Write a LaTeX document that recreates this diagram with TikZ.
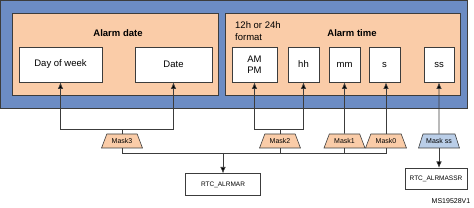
\documentclass[tikz,border=0pt]{standalone}
\usepackage{fontspec}
\setmainfont{Liberation Sans}
\usetikzlibrary{shapes.geometric, arrows.meta}

\definecolor{regblue}{RGB}{108,140,196}
\definecolor{fieldorange}{RGB}{250,204,168}
\definecolor{maskblue}{RGB}{186,206,232}
\definecolor{edgegray}{RGB}{60,60,60}

\begin{document}
\begin{tikzpicture}[x=1pt, y=-1pt,
        field/.style={draw=edgegray, fill=white, line width=0.8pt, minimum height=35pt, inner sep=0pt,
            font=\fontsize{9.5}{11}\selectfont, align=center},
        group/.style={draw=edgegray, fill=fieldorange, line width=0.8pt, minimum height=82pt, inner sep=0pt},
        grouplabel/.style={inner sep=0pt, font=\fontsize{9.5}{11}\selectfont\bfseries},
        mask/.style={trapezium, trapezium left angle=55, trapezium right angle=55, trapezium stretches=true,
            draw=edgegray, fill=fieldorange, line width=0.6pt, minimum width=41pt, minimum height=14pt,
            inner sep=0pt, font=\fontsize{7}{8}\selectfont},
        reg/.style={draw=edgegray, fill=white, line width=0.6pt, minimum height=21.5pt, inner sep=0pt,
            font=\fontsize{6.5}{8}\selectfont},
        link/.style={draw=edgegray, line width=0.7pt},
        >={Latex[length=6.5pt,width=5.5pt,fill=black]}]
        \useasboundingbox (0,0) rectangle (474,208);

        % register frame
        \node[draw=edgegray, fill=regblue, line width=0.8pt, minimum width=467pt, minimum height=108pt,
            inner sep=0pt, anchor=north west] (rtcreg) at (0,0) {};
        \node[group, minimum width=206pt] (datebox) at (115,54) {};
        \node[group, minimum width=235pt] (timebox) at (342.5,54) {};
        \node[grouplabel] (datelabel) at (118,33) {Alarm date};
        \node[grouplabel] (timelabel) at (352,33) {Alarm time};
        \node[inner sep=0pt, anchor=west, align=left, font=\fontsize{9.5}{12}\selectfont] (fmtlabel) at (235,31) {12h or 24h\\format};

        % fields
        \node[field, minimum width=83pt] (dow)  at (60.5,64.5)  {Day of week};
        \node[field, minimum width=77pt] (date) at (173.5,64.5) {Date};
        \node[field, minimum width=45pt] (ampm) at (254.5,64.5) {AM\\PM};
        \node[field, minimum width=31pt] (hh)   at (303.5,64.5) {hh};
        \node[field, minimum width=31pt] (mm)   at (344.5,64.5) {mm};
        \node[field, minimum width=31pt] (s)    at (384.5,64.5) {s};
        \node[field, minimum width=30pt] (ss)   at (439,64.5)   {ss};

        % masks
        \node[mask] (mask3) at (122,141)   {Mask3};
        \node[mask] (mask2) at (280,141)   {Mask2};
        \node[mask] (mask1) at (344.5,141) {Mask1};
        \node[mask] (mask0) at (386,141)   {Mask0};
        \node[mask, fill=maskblue] (maskss) at (439,141) {Mask ss};

        % registers
        \node[reg, minimum width=75pt] (alrmar)   at (223,184.5) {RTC\_ALRMAR};
        \node[reg, minimum width=62pt] (alrmassr) at (436,179)   {RTC\_ALRMASSR};
        \node[inner sep=0pt, font=\fontsize{7}{8}\selectfont] (docref) at (451,201) {MS19528V1};

        \coordinate (join3) at (122,129);
        \coordinate (join2) at (280,129);
        \coordinate (bus)   at (223,153);

        % connectors
        \draw[link] (mask3) -- (join3);
        \draw[link, ->] (join3) -| (dow);
        \draw[link, ->] (join3) -| (date);
        \draw[link] (mask2) -- (join2);
        \draw[link, ->] (join2) -| (ampm);
        \draw[link, ->] (join2) -| (hh);
        \draw[link, ->] (mask1) -- (mm);
        \draw[link, ->] (mask0.north) -- (mask0.north |- s.south);
        \draw[link, ->] (maskss) -- (ss);

        \draw[link] (mask3.south) |- (mask0.south |- bus) -- (mask0.south);
        \draw[link] (mask2.south) -- (mask2.south |- bus);
        \draw[link] (mask1.south) -- (mask1.south |- bus);
        \draw[link, ->] (bus) -- (alrmar);
        \draw[link, ->] (maskss.south) -- (maskss.south |- alrmassr.north);
\end{tikzpicture}
\end{document}
